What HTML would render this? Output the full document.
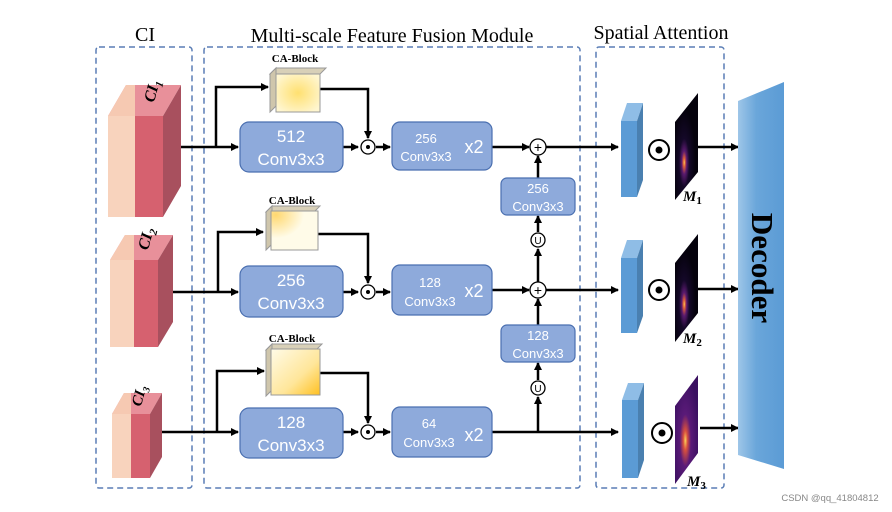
<!DOCTYPE html>
<html><head><meta charset="utf-8"><style>
html,body{margin:0;padding:0;background:#fff;}
svg{display:block;}
</style></head><body>
<svg width="892" height="512" viewBox="0 0 892 512" xmlns="http://www.w3.org/2000/svg">
<defs>
<marker id="ar" markerWidth="8" markerHeight="8" refX="7" refY="4" orient="auto" markerUnits="userSpaceOnUse">
<path d="M0,0 L8,4 L0,8 z" fill="#000"/></marker>
<radialGradient id="y1" cx="0.5" cy="0.5" r="0.6"><stop offset="0" stop-color="#ffe070"/><stop offset="1" stop-color="#fff6d0"/></radialGradient>
<radialGradient id="y2" cx="0.1" cy="0.1" r="0.6"><stop offset="0" stop-color="#ffd870"/><stop offset="1" stop-color="#fffbe8"/></radialGradient>
<linearGradient id="y3" x1="0" y1="0" x2="1" y2="1"><stop offset="0" stop-color="#fffbe8"/><stop offset="0.6" stop-color="#ffe69a"/><stop offset="1" stop-color="#ffc020"/></linearGradient>
<linearGradient id="dec" x1="0" y1="0" x2="1" y2="0"><stop offset="0" stop-color="#9ec6e8"/><stop offset="0.4" stop-color="#6aa6da"/><stop offset="1" stop-color="#5b9bd5"/></linearGradient>
<radialGradient id="hm" cx="0.4" cy="0.65" r="0.5" fx="0.4" fy="0.65"><stop offset="0" stop-color="#fcd25a"/><stop offset="0.08" stop-color="#e0603a"/><stop offset="0.22" stop-color="#5a1a6e"/><stop offset="0.45" stop-color="#140828"/><stop offset="1" stop-color="#05020c"/></radialGradient>
<radialGradient id="hm3" cx="0.45" cy="0.6" r="0.6"><stop offset="0" stop-color="#fcd25a"/><stop offset="0.15" stop-color="#d8503e"/><stop offset="0.4" stop-color="#5a1a78"/><stop offset="1" stop-color="#3a1060"/></radialGradient>
</defs>
<g fill="none" stroke="#5a7db5" stroke-width="1.5" stroke-dasharray="6,4">
<rect x="96" y="47" width="96" height="441" rx="3"/>
<rect x="204" y="47" width="376" height="441" rx="3"/>
<rect x="596" y="47" width="128" height="441" rx="3"/>
</g>
<g font-family="Liberation Serif, serif" font-size="20" fill="#000" text-anchor="middle">
<text x="145" y="41">CI</text>
<text x="392" y="42">Multi-scale Feature Fusion Module</text>
<text x="661" y="39">Spatial Attention</text>
</g>
<g>
<polygon points="108,116 126,85 181,85 163,116" fill="#e8909a"/>
<polygon points="108,116 126,85 135,85 135,116" fill="#f6c9b2"/>
<rect x="108" y="116" width="27" height="101" fill="#f8d3bd"/>
<rect x="135" y="116" width="28" height="101" fill="#d6616f"/>
<polygon points="163,116 181,85 181,186 163,217" fill="#a8505e"/>
<text x="150" y="106" font-family="Liberation Serif,serif" font-style="italic" font-weight="bold" font-size="16" transform="rotate(-75 150 102)">CI<tspan font-size="11" dy="4">1</tspan></text>

<polygon points="110,260 125,235 173,235 158,260" fill="#e8909a"/>
<polygon points="110,260 125,235 134,235 134,260" fill="#f6c9b2"/>
<rect x="110" y="260" width="24" height="87" fill="#f8d3bd"/>
<rect x="134" y="260" width="24" height="87" fill="#d6616f"/>
<polygon points="158,260 173,235 173,322 158,347" fill="#a8505e"/>
<text x="145" y="253" font-family="Liberation Serif,serif" font-style="italic" font-weight="bold" font-size="16" transform="rotate(-75 145 250)">CI<tspan font-size="11" dy="4">2</tspan></text>

<polygon points="112,414 124,393 162,393 150,414" fill="#e8909a"/>
<polygon points="112,414 124,393 131,393 131,414" fill="#f6c9b2"/>
<rect x="112" y="414" width="19" height="64" fill="#f8d3bd"/>
<rect x="131" y="414" width="19" height="64" fill="#d6616f"/>
<polygon points="150,414 162,393 162,457 150,478" fill="#a8505e"/>
<text x="137" y="410" font-family="Liberation Serif,serif" font-style="italic" font-weight="bold" font-size="15" transform="rotate(-75 137 406)">CI<tspan font-size="10" dy="4">3</tspan></text>
</g>
<g stroke="#000" stroke-width="2.5" fill="none">
<line x1="181" y1="147" x2="238" y2="147" marker-end="url(#ar)"/>
<polyline points="216,147 216,87 268,87" marker-end="url(#ar)"/>
<polyline points="320,89 368,89 368,138" marker-end="url(#ar)"/>
<line x1="343" y1="147" x2="358" y2="147" marker-end="url(#ar)"/>
<line x1="376" y1="147" x2="390" y2="147" marker-end="url(#ar)"/>
<line x1="492" y1="147" x2="529" y2="147" marker-end="url(#ar)"/>
<line x1="546" y1="147" x2="618" y2="147" marker-end="url(#ar)"/>
<line x1="538" y1="178" x2="538" y2="156" marker-end="url(#ar)"/>
<line x1="538" y1="232" x2="538" y2="216" marker-end="url(#ar)"/>
<line x1="538" y1="282" x2="538" y2="249" marker-end="url(#ar)"/>
<line x1="173" y1="292" x2="238" y2="292" marker-end="url(#ar)"/>
<polyline points="218,292 218,232 263,232" marker-end="url(#ar)"/>
<polyline points="318,234 368,234 368,283" marker-end="url(#ar)"/>
<line x1="343" y1="292" x2="358" y2="292" marker-end="url(#ar)"/>
<line x1="376" y1="292" x2="390" y2="292" marker-end="url(#ar)"/>
<line x1="492" y1="290" x2="529" y2="290" marker-end="url(#ar)"/>
<line x1="546" y1="290" x2="618" y2="290" marker-end="url(#ar)"/>
<line x1="538" y1="325" x2="538" y2="299" marker-end="url(#ar)"/>
<line x1="538" y1="380" x2="538" y2="363" marker-end="url(#ar)"/>
<line x1="538" y1="432" x2="538" y2="397" marker-end="url(#ar)"/>
<line x1="162" y1="432" x2="238" y2="432" marker-end="url(#ar)"/>
<polyline points="217,432 217,371 264,371" marker-end="url(#ar)"/>
<polyline points="320,373 368,373 368,423" marker-end="url(#ar)"/>
<line x1="343" y1="432" x2="358" y2="432" marker-end="url(#ar)"/>
<line x1="376" y1="432" x2="390" y2="432" marker-end="url(#ar)"/>
<line x1="492" y1="432" x2="618" y2="432" marker-end="url(#ar)"/>
<line x1="698" y1="147" x2="738" y2="147" marker-end="url(#ar)"/>
<line x1="698" y1="289" x2="738" y2="289" marker-end="url(#ar)"/>
<line x1="700" y1="428" x2="738" y2="428" marker-end="url(#ar)"/>
</g>
<g stroke="#999" stroke-width="1">
<polygon points="270,74 276,68 326,68 320,74" fill="#d8d0b8"/><polygon points="270,74 276,68 276,106 270,112" fill="#cfc6ac"/>
<rect x="276" y="74" width="44" height="38" fill="url(#y1)"/>
<polygon points="266,212 272,206 320,206 314,212" fill="#d8d0b8"/><polygon points="266,212 272,206 272,244 266,250" fill="#cfc6ac"/>
<rect x="271" y="211" width="47" height="39" fill="url(#y2)"/>
<polygon points="266,350 272,344 322,344 316,350" fill="#d8d0b8"/><polygon points="266,350 272,344 272,390 266,396" fill="#cfc6ac"/>
<rect x="271" y="349" width="49" height="46" fill="url(#y3)"/>
</g>
<g font-family="Liberation Serif,serif" font-weight="bold" font-size="11" text-anchor="middle">
<text x="295" y="62">CA-Block</text><text x="292" y="204">CA-Block</text><text x="292" y="342">CA-Block</text>
</g>
<g fill="#8eaadb" stroke="#4a6fb0" stroke-width="1.2">
<rect x="240" y="122" width="103" height="50" rx="9"/>
<rect x="240" y="266" width="103" height="51" rx="9"/>
<rect x="240" y="408" width="103" height="50" rx="9"/>
<rect x="392" y="122" width="100" height="48" rx="8"/>
<rect x="392" y="265" width="100" height="50" rx="8"/>
<rect x="392" y="407" width="100" height="50" rx="8"/>
<rect x="501" y="178" width="74" height="37" rx="6"/>
<rect x="501" y="325" width="74" height="37" rx="6"/>
</g>
<g font-family="Liberation Sans,sans-serif" fill="#fff" text-anchor="middle">
<g font-size="17"><text x="291" y="142">512</text><text x="291" y="165">Conv3x3</text>
<text x="291" y="286">256</text><text x="291" y="309">Conv3x3</text>
<text x="291" y="428">128</text><text x="291" y="451">Conv3x3</text></g>
<g font-size="13"><text x="426" y="143">256</text><text x="426" y="161">Conv3x3</text>
<text x="430" y="287">128</text><text x="430" y="306">Conv3x3</text>
<text x="429" y="428">64</text><text x="429" y="447">Conv3x3</text>
<text x="538" y="193">256</text><text x="538" y="211">Conv3x3</text>
<text x="538" y="340">128</text><text x="538" y="358">Conv3x3</text></g>
<g font-size="18"><text x="474" y="153">x2</text><text x="474" y="297">x2</text><text x="474" y="441">x2</text></g>
</g>
<g stroke="#000" stroke-width="1.3" fill="#fff">
<circle cx="368" cy="147" r="7"/><circle cx="368" cy="292" r="7"/><circle cx="368" cy="432" r="7"/>
<circle cx="538" cy="147" r="8"/><circle cx="538" cy="290" r="8"/>
<circle cx="538" cy="240" r="7"/><circle cx="538" cy="388" r="7"/>
<circle cx="659" cy="150" r="10" stroke-width="2"/><circle cx="659" cy="290" r="10" stroke-width="2"/><circle cx="662" cy="433" r="10" stroke-width="2"/>
</g>
<g fill="#000"><circle cx="368" cy="147" r="2"/><circle cx="368" cy="292" r="2"/><circle cx="368" cy="432" r="2"/>
<circle cx="659" cy="150" r="3.5"/><circle cx="659" cy="290" r="3.5"/><circle cx="662" cy="433" r="3.5"/></g>
<g font-family="Liberation Sans,sans-serif" font-size="14" text-anchor="middle" fill="#000">
<text x="538" y="152">+</text><text x="538" y="295">+</text>
<text x="538" y="244" font-size="10">U</text><text x="538" y="392" font-size="10">U</text>
</g>
<g>
<polygon points="621,121 627,103 643,103 637,121" fill="#8fbde6"/><rect x="621" y="121" width="16" height="76" fill="#5b9bd5"/><polygon points="637,121 643,103 643,180 637,197" fill="#4a80b0"/>
<polygon points="621,258 627,240 643,240 637,258" fill="#8fbde6"/><rect x="621" y="258" width="16" height="75" fill="#5b9bd5"/><polygon points="637,258 643,240 643,316 637,333" fill="#4a80b0"/>
<polygon points="622,400 628,383 644,383 638,400" fill="#8fbde6"/><rect x="622" y="400" width="16" height="78" fill="#5b9bd5"/><polygon points="638,400 644,383 644,460 638,478" fill="#4a80b0"/>
</g>
<g>
<polygon points="675,122 698,93 698,172 675,200" fill="url(#hm)"/>
<polygon points="675,263 698,234 698,313 675,342" fill="url(#hm)"/>
<polygon points="675,406 698,375 698,453 675,484" fill="url(#hm3)"/>
</g>
<g font-family="Liberation Serif,serif" font-style="italic" font-weight="bold" font-size="15">
<text x="683" y="201">M<tspan font-size="11" font-style="normal" dy="3">1</tspan></text>
<text x="683" y="343">M<tspan font-size="11" font-style="normal" dy="3">2</tspan></text>
<text x="687" y="486">M<tspan font-size="11" font-style="normal" dy="3">3</tspan></text>
</g>
<polygon points="738,101 784,82 784,469 738,455" fill="url(#dec)"/>
<text x="0" y="0" transform="translate(752,268) rotate(90)" font-family="Liberation Serif,serif" font-weight="bold" font-size="31" text-anchor="middle">Decoder</text>
<text x="830" y="501" font-family="Liberation Sans,sans-serif" font-size="9.5" fill="#888" text-anchor="middle">CSDN @qq_41804812</text>
</svg>
</body></html>
